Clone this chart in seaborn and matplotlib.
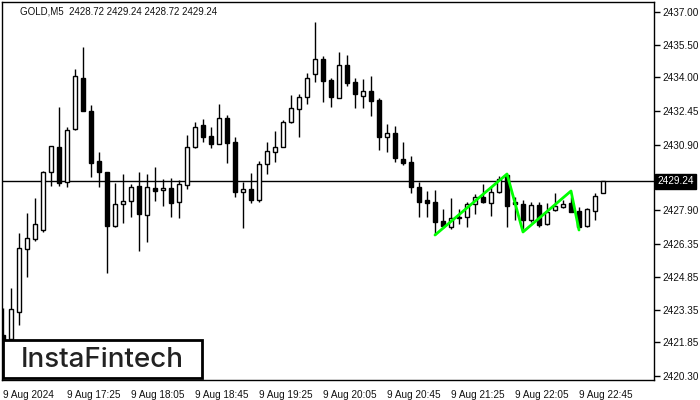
import numpy as np
import pandas as pd
import seaborn as sns
import matplotlib
matplotlib.use("Agg")
import matplotlib.pyplot as plt
import matplotlib.transforms as mtransforms
from matplotlib.patches import Rectangle


# GOLD M5 candles, 9 Aug 2024 16:45 .. 23:00
opens = [2422.18, 2422.00, 2423.24, 2426.13, 2426.59, 2427.00, 2429.66, 2430.81, 2429.20, 2431.63,
         2433.97, 2432.46, 2430.17, 2429.66, 2427.18, 2428.19, 2428.33, 2429.02, 2427.69, 2428.93,
         2428.83, 2428.93, 2428.28, 2429.06, 2430.81, 2431.82, 2431.31, 2430.94, 2432.14, 2431.04,
         2428.74, 2428.88, 2428.38, 2430.03, 2430.58, 2430.81, 2431.95, 2432.55, 2433.10, 2434.16,
         2434.84, 2433.88, 2433.06, 2434.57, 2433.79, 2433.15, 2433.38, 2432.96, 2431.27, 2431.45,
         2430.26, 2430.12, 2428.97, 2428.38, 2428.28, 2427.41, 2427.14, 2427.60, 2427.60, 2428.19,
         2428.51, 2428.24, 2428.74, 2429.52, 2428.28, 2428.19, 2427.46, 2428.15, 2427.28, 2427.92,
         2428.06, 2428.24, 2427.87, 2427.18, 2427.87, 2428.72]
highs = [2423.42, 2424.34, 2426.86, 2427.78, 2428.47, 2429.71, 2430.85, 2432.64, 2431.72, 2434.39,
         2435.39, 2432.73, 2430.58, 2429.66, 2429.16, 2429.57, 2429.11, 2429.66, 2429.57, 2429.89,
         2429.34, 2429.39, 2429.29, 2431.36, 2431.95, 2432.09, 2431.72, 2432.78, 2432.28, 2431.27,
         2429.20, 2429.61, 2430.17, 2431.04, 2431.54, 2432.05, 2433.19, 2433.24, 2434.20, 2436.54,
         2434.98, 2433.97, 2435.17, 2435.03, 2433.97, 2433.93, 2434.06, 2433.06, 2431.86, 2431.77,
         2431.04, 2430.39, 2429.20, 2428.79, 2428.83, 2427.96, 2428.47, 2427.96, 2428.28, 2428.65,
         2429.11, 2428.97, 2429.48, 2429.57, 2428.51, 2428.38, 2428.28, 2428.28, 2428.24, 2428.70,
         2428.38, 2428.51, 2428.06, 2428.01, 2428.70, 2429.24]
lows = [2421.40, 2421.86, 2422.64, 2424.84, 2426.50, 2426.91, 2429.02, 2429.02, 2428.97, 2431.59,
        2432.46, 2429.43, 2428.97, 2425.03, 2427.14, 2427.32, 2427.60, 2426.04, 2426.45, 2428.33,
        2428.10, 2427.60, 2427.55, 2428.88, 2430.76, 2431.04, 2430.76, 2430.94, 2430.07, 2428.51,
        2427.09, 2428.24, 2428.28, 2429.57, 2430.12, 2430.81, 2431.91, 2431.27, 2432.78, 2433.79,
        2432.87, 2432.64, 2433.06, 2433.61, 2432.60, 2432.60, 2432.23, 2430.67, 2430.58, 2430.12,
        2429.98, 2428.70, 2427.60, 2427.60, 2426.77, 2427.09, 2427.05, 2427.28, 2427.14, 2427.73,
        2428.24, 2427.64, 2428.70, 2427.14, 2427.46, 2427.05, 2427.37, 2427.14, 2427.23, 2427.87,
        2428.01, 2427.83, 2427.14, 2427.14, 2427.46, 2428.72]
closes = [2421.50, 2423.38, 2426.17, 2426.63, 2427.28, 2429.66, 2430.85, 2429.16, 2431.59, 2434.06,
          2432.46, 2430.07, 2429.66, 2427.18, 2428.19, 2428.33, 2428.97, 2427.73, 2428.97, 2428.79,
          2428.93, 2428.24, 2429.11, 2430.81, 2431.72, 2431.27, 2430.94, 2432.14, 2430.99, 2428.74,
          2428.88, 2428.38, 2430.03, 2430.62, 2430.81, 2431.95, 2432.60, 2433.10, 2433.97, 2434.84,
          2433.83, 2433.10, 2434.57, 2433.74, 2433.24, 2433.38, 2432.92, 2431.27, 2431.45, 2430.30,
          2430.07, 2428.97, 2428.28, 2428.24, 2427.37, 2427.18, 2427.55, 2427.55, 2428.19, 2428.51,
          2428.28, 2428.74, 2429.34, 2428.10, 2428.19, 2427.46, 2428.15, 2427.23, 2427.83, 2428.10,
          2428.19, 2427.83, 2427.14, 2427.96, 2428.56, 2429.24]

# pattern drawn in green (candle index, price)
pattern_idx = [54, 63, 65, 71, 72]
pattern_price = [2426.77, 2429.57, 2426.91, 2428.79, 2427.00]

last_price = 2429.24
price_ticks = [2437.00, 2435.50, 2434.00, 2432.45, 2430.90, 2427.90,
               2426.35, 2424.85, 2423.35, 2421.85, 2420.30]
time_tick_idx = [0, 8, 16, 24, 32, 40, 48, 56, 64, 72]
time_labels = ['9 Aug 2024', '9 Aug 17:25', '9 Aug 18:05', '9 Aug 18:45', '9 Aug 19:25',
               '9 Aug 20:05', '9 Aug 20:45', '9 Aug 21:25', '9 Aug 22:05', '9 Aug 22:45']

df = pd.DataFrame({"open": opens, "high": highs, "low": lows, "close": closes})
df["i"] = np.arange(len(df))
df["up"] = df["close"] >= df["open"]
df["bottom"] = df[["open", "close"]].min(axis=1)
df["height"] = (df["close"] - df["open"]).abs().clip(lower=0.03)

sns.set_style("white")
plt.rcParams['font.family'] = ['Liberation Sans', 'DejaVu Sans']

fig = plt.figure(figsize=(7, 4), dpi=100)
ax = fig.add_axes([2 / 700, 20 / 400, 652 / 700, 378 / 400])

# wicks then bodies
ax.vlines(df["i"], df["low"], df["high"], color="black", lw=1, zorder=2)
up = df[df["up"]]
dn = df[~df["up"]]
ax.bar(up["i"], up["height"], bottom=up["bottom"], width=0.6,
       color="white", edgecolor="black", linewidth=1, zorder=3)
ax.bar(dn["i"], dn["height"], bottom=dn["bottom"], width=0.6,
       color="black", edgecolor="black", linewidth=1, zorder=3)

ax.axhline(last_price, color="black", lw=1, zorder=1)

sns.lineplot(x=pattern_idx, y=pattern_price, sort=False, color="#00ff00",
             lw=2, ax=ax, zorder=4)

ax.set_xlim(-0.125, 81.375)
ax.set_ylim(2420.12, 2437.46)

ax.yaxis.tick_right()
ax.set_yticks(price_ticks)
ax.set_yticklabels([f"{p:.2f}" for p in price_ticks], fontsize=7.2, color="#111111")
ax.set_xticks(time_tick_idx)
ax.set_xticklabels(time_labels, fontsize=7.2, color="#111111", ha="left")
ax.tick_params(axis="both", direction="out", length=4, width=1, color="black", pad=2)
ax.tick_params(axis="x", pad=3)
for s in ax.spines.values():
    s.set_color("black")
    s.set_linewidth(1)
ax.set_xlabel("")
ax.set_ylabel("")

# current price label
trans = mtransforms.blended_transform_factory(ax.transAxes, ax.transData)
ax.text(1.005, last_price, f"{last_price:.2f}", transform=trans, fontsize=7.2,
        color="white", va="center", ha="left",
        bbox=dict(boxstyle="square,pad=0.25", facecolor="black", edgecolor="black"))

ax.text(18 / 652, 1 - 9 / 378, "GOLD,M5  2428.72 2429.24 2428.72 2429.24",
        transform=ax.transAxes, fontsize=7, color="#111111", va="center", ha="left")

# logo box
ax.add_patch(Rectangle((0.5 / 652, 2 / 378), 199 / 652, 38 / 378, transform=ax.transAxes,
                       facecolor="white", edgecolor="black", linewidth=2, zorder=6))
ax.text(100 / 652, 20 / 378, "InstaFintech", transform=ax.transAxes,
        fontsize=20, color="#222222", ha="center", va="center", zorder=7,
        family=["Inter", "DejaVu Sans"], fontweight="medium")

fig.savefig("out.png", dpi=100)
